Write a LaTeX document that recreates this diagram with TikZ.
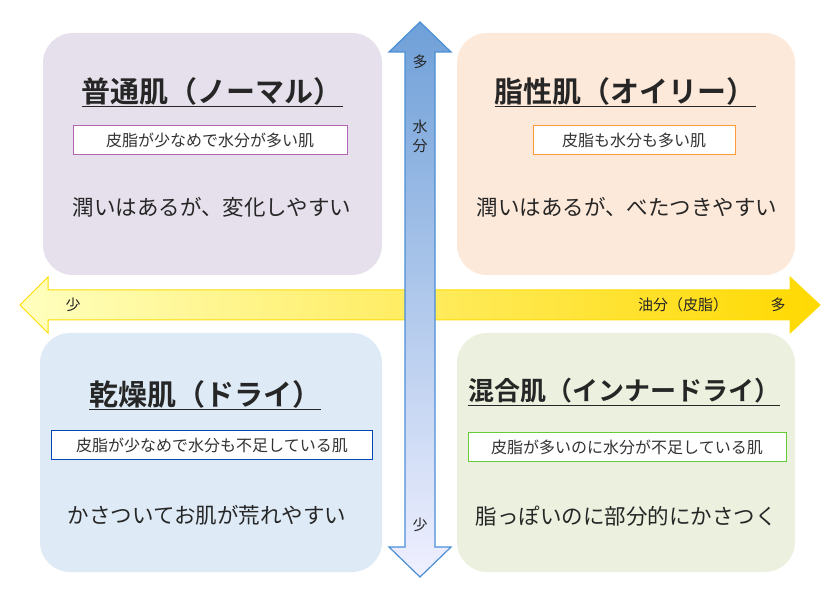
\documentclass[tikz,border=0pt]{standalone}
\usepackage{fontspec}
\setmainfont{Noto Sans CJK JP}
\newfontfamily\jpb{Noto Sans CJK JP Bold}
\begin{document}
\begin{tikzpicture}[x=1pt,y=-1pt,
  quad/.style={rounded corners=30pt},
  sub/.style={draw,line width=1pt,fill=white,minimum height=29pt,font=\fontsize{16}{16}\selectfont,text=black!80},
  ttl/.style={font=\jpb\fontsize{29}{29}\selectfont,text=black!85},
  body/.style={font=\fontsize{21.5}{21.5}\selectfont,text=black!85},
  lab/.style={font=\fontsize{15}{15}\selectfont,text=black!85}]
\useasboundingbox (0,0) rectangle (832,601);
\fill[white] (0,0) rectangle (832,601);
\definecolor{cTL}{HTML}{E6E0EC}\definecolor{cTR}{HTML}{FDE9D9}
\definecolor{cBL}{HTML}{DEEBF7}\definecolor{cBR}{HTML}{EBF1DE}
\definecolor{vb}{HTML}{6FA0D8}\definecolor{vbd}{HTML}{4A8FD6}
\fill[cTL,quad] (43,33) rectangle (382,275);
\fill[cTR,quad] (457,33) rectangle (795,275);
\fill[cBL,quad] (40,333) rectangle (382,572);
\fill[cBR,quad] (457,333) rectangle (795,572);
% horizontal arrow
\shade[left color=yellow!25,right color=yellow!70!orange,draw=yellow!80!orange,line width=1pt]
 (20,305) -- (48,277) -- (48,290) -- (790,290) -- (790,277) -- (820,305) -- (790,333) -- (790,320) -- (48,320) -- (48,333) -- cycle;
% vertical arrow
\shade[top color=vb,bottom color=blue!6,draw=vbd,line width=1.2pt]
 (420,22) -- (451,52) -- (435,52) -- (435,547) -- (451,547) -- (420,577) -- (389,547) -- (405,547) -- (405,52) -- (389,52) -- cycle;
\node[lab] (vm) at (420,62) {多};
\node[lab] (vw1) at (420,127) {水};
\node[lab] (vw2) at (420,146) {分};
\node[lab] (vl) at (420,525) {少};
\node[lab] (hl) at (73,305) {少};
\node[lab] (ho) at (683,305) {油分（皮脂）};
\node[lab] (hm) at (778,305) {多};
% TL
\node[ttl] (t1) at (212,92) {\underline{普通肌（ノーマル）}};
\node[sub,draw=violet!60,minimum width=274pt] (s1) at (210,140) {皮脂が少なめで水分が多い肌};
\node[body] (b1) at (212,207) {潤いはあるが、変化しやすい};
% TR
\node[ttl] (t2) at (625,92) {\underline{脂性肌（オイリー）}};
\node[sub,draw=orange!80,minimum width=202pt] (s2) at (634,140) {皮脂も水分も多い肌};
\node[body] (b2) at (627,207) {潤いはあるが、べたつきやすい};
% BL
\node[ttl] (t3) at (205,395) {\underline{乾燥肌（ドライ）}};
\node[sub,draw=blue!60!cyan!70!black,minimum width=321pt] (s3) at (212,445) {皮脂が少なめで水分も不足している肌};
\node[body] (b3) at (207,515) {かさついてお肌が荒れやすい};
% BR
\node[ttl,font=\jpb\fontsize{26}{26}\selectfont] (t4) at (624,392) {\underline{混合肌（インナードライ）}};
\node[sub,draw=green!50!olive!80,minimum width=318pt] (s4) at (627,447) {皮脂が多いのに水分が不足している肌};
\node[body] (b4) at (626,516) {脂っぽいのに部分的にかさつく};
\end{tikzpicture}
\end{document}
